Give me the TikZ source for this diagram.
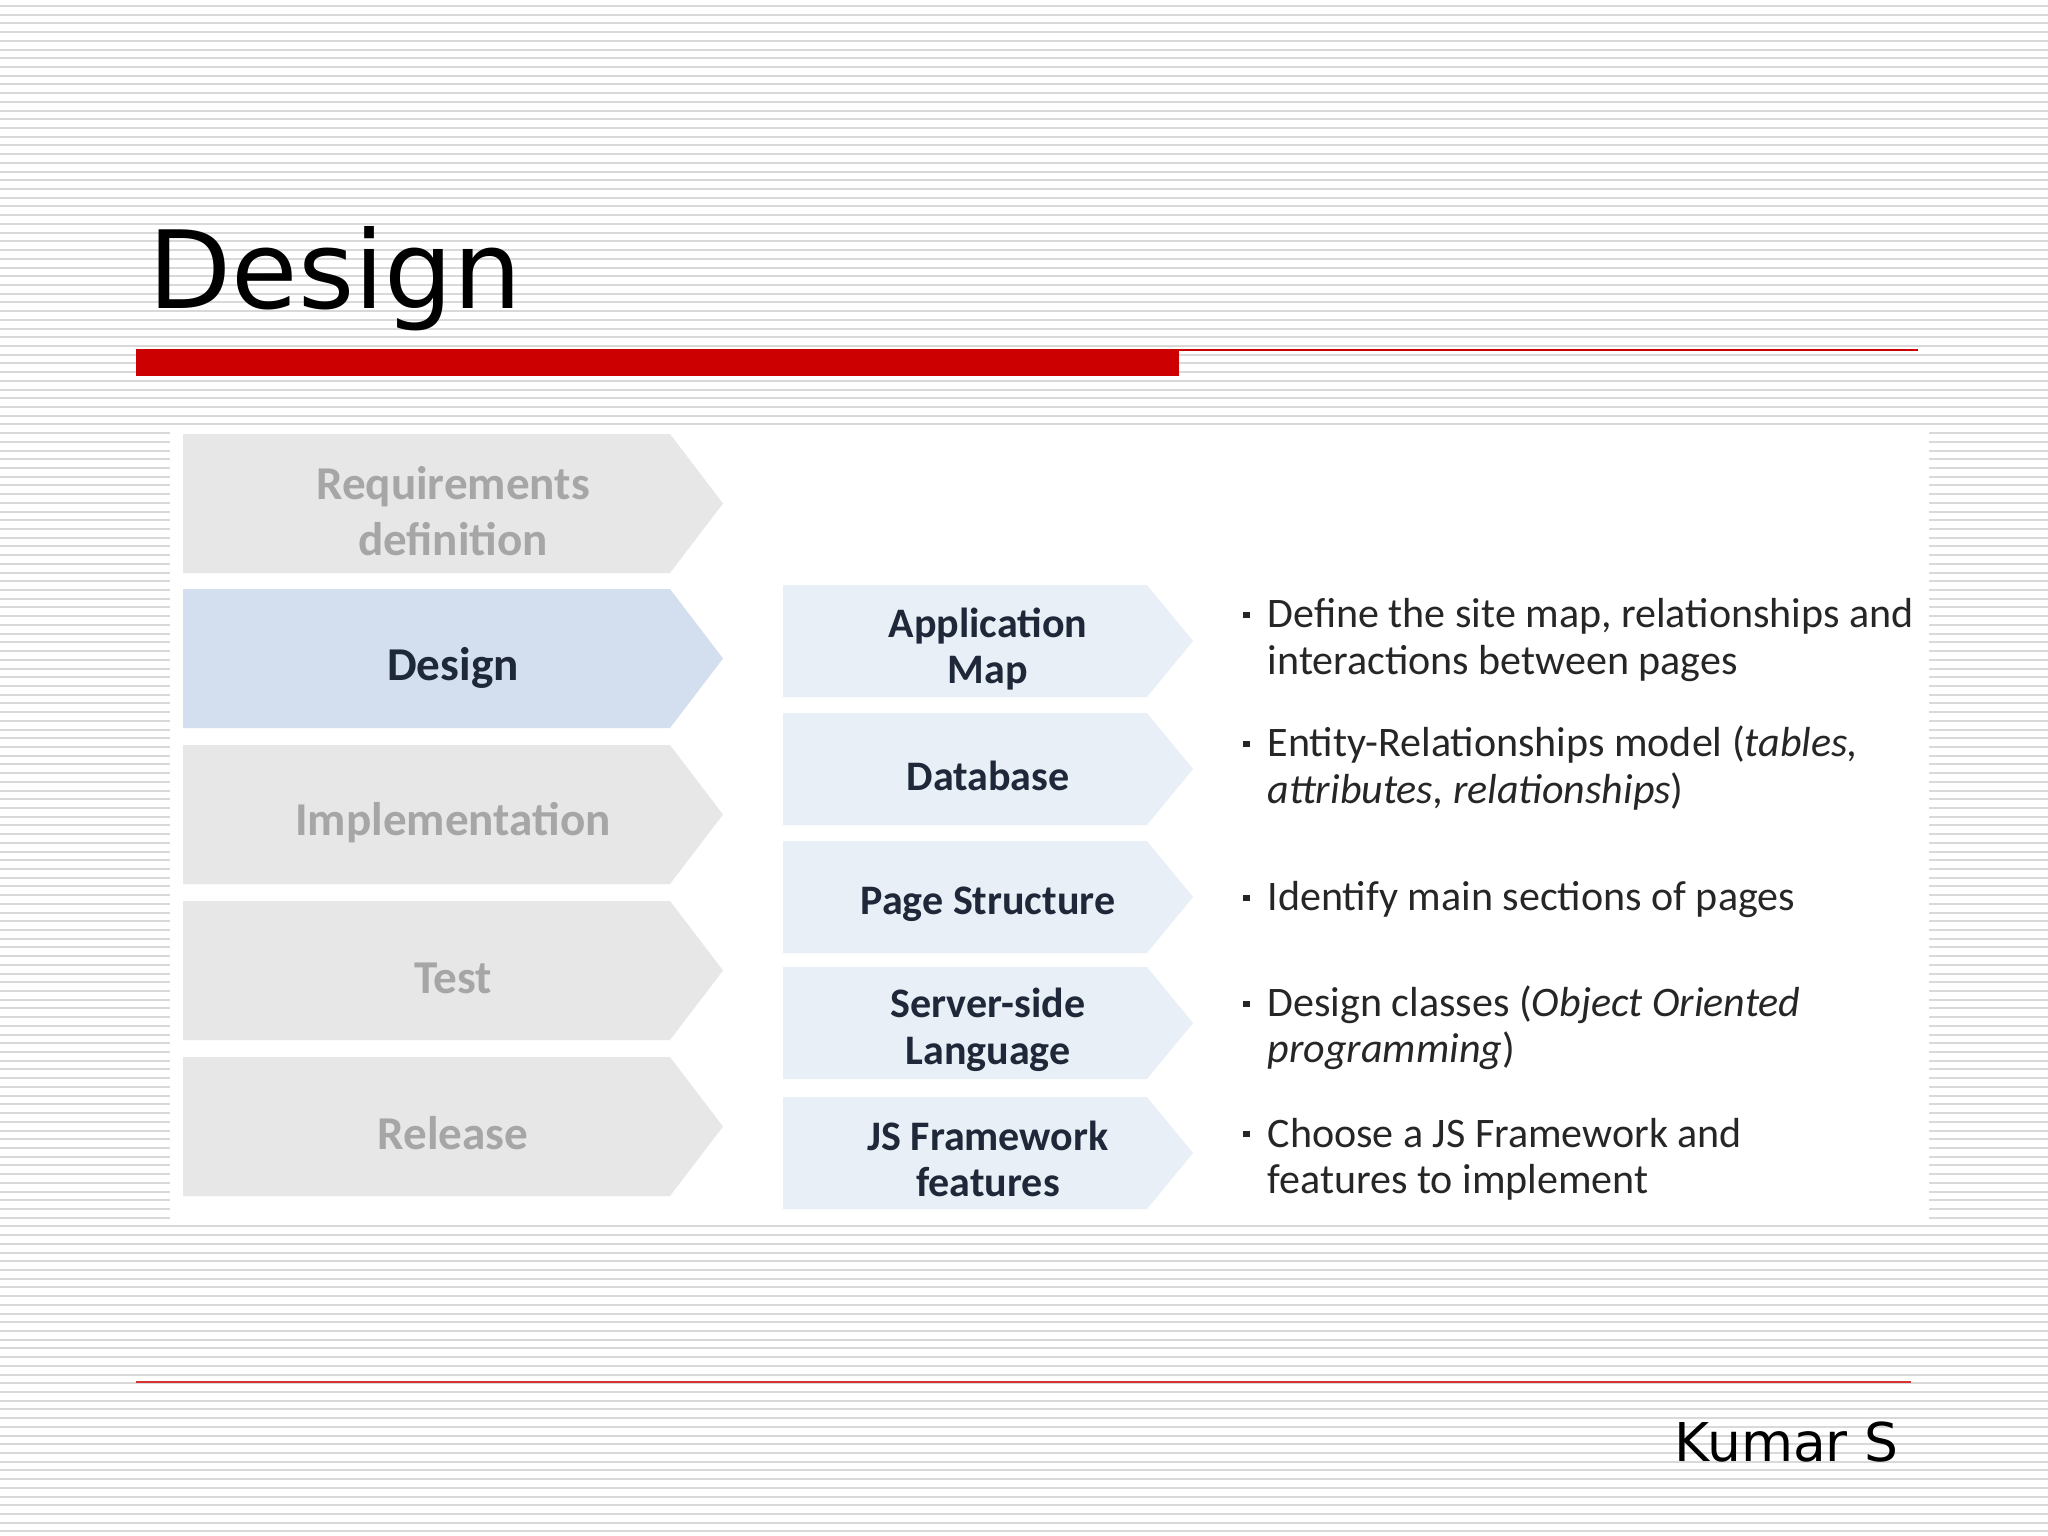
\documentclass[tikz,border=0pt]{standalone}
\usepackage{fontspec}
\usepackage{xcolor}
\setmainfont{Carlito}
\newfontfamily\slidefont{DejaVu Sans}
\newcommand{\unitsize}{0.01cm}
\newcommand{\bulletmark}{\llap{\raisebox{0.23em}{\rule{0.15em}{0.15em}}\hspace{0.43em}}}
\definecolor{barred}{RGB}{204,0,0}
\definecolor{stagegrey}{RGB}{231,231,231}
\definecolor{stagetext}{RGB}{166,166,166}
\definecolor{activeblue}{RGB}{211,223,238}
\definecolor{stepblue}{RGB}{233,239,247}
\definecolor{inktext}{RGB}{30,40,56}
\definecolor{bodytext}{RGB}{38,38,38}

\begin{document}
\begin{tikzpicture}
\useasboundingbox (0,0) rectangle (2048*\unitsize,-1536*\unitsize);
\tikzstyle{stripe}=[gray!30, line width=2*\unitsize]
\tikzstyle{stage}=[font=\fontsize{13.4}{16}\selectfont\bfseries, text=stagetext, align=center, inner sep=0pt]
\tikzstyle{substep}=[font=\fontsize{11.95}{13.2}\selectfont\bfseries, text=inktext, align=center, inner sep=0pt]
\tikzstyle{bullettext}=[font=\fontsize{11.95}{13.2}\selectfont, text=bodytext, align=left, anchor=west, inner sep=0pt]

\foreach \k in {0,...,175}
    \draw[stripe] (0,{-(6+8.717*\k)*\unitsize}) -- (2048*\unitsize,{-(6+8.717*\k)*\unitsize});

\node[anchor=base west, inner sep=0pt, font=\slidefont\fontsize{30.7}{36}\selectfont] (title) at (148*\unitsize,-308*\unitsize) {Design};

\fill[barred] (136*\unitsize,-349*\unitsize) rectangle (1179*\unitsize,-376*\unitsize);
\draw[barred, line width=2*\unitsize] (1179*\unitsize,-350*\unitsize) -- (1918*\unitsize,-350*\unitsize);

\fill[white] (170*\unitsize,-427*\unitsize) rectangle (1929*\unitsize,-1222*\unitsize);


\fill[stagegrey] (183*\unitsize,-434*\unitsize) -- (670*\unitsize,-434*\unitsize) -- (723*\unitsize,-503.5*\unitsize) -- (670*\unitsize,-573*\unitsize) -- (183*\unitsize,-573*\unitsize) -- cycle;

\fill[activeblue] (183*\unitsize,-589*\unitsize) -- (670*\unitsize,-589*\unitsize) -- (723*\unitsize,-658.5*\unitsize) -- (670*\unitsize,-728*\unitsize) -- (183*\unitsize,-728*\unitsize) -- cycle;

\fill[stagegrey] (183*\unitsize,-745*\unitsize) -- (670*\unitsize,-745*\unitsize) -- (723*\unitsize,-814.5*\unitsize) -- (670*\unitsize,-884*\unitsize) -- (183*\unitsize,-884*\unitsize) -- cycle;

\fill[stagegrey] (183*\unitsize,-901*\unitsize) -- (670*\unitsize,-901*\unitsize) -- (723*\unitsize,-970.5*\unitsize) -- (670*\unitsize,-1040*\unitsize) -- (183*\unitsize,-1040*\unitsize) -- cycle;

\fill[stagegrey] (183*\unitsize,-1057*\unitsize) -- (670*\unitsize,-1057*\unitsize) -- (723*\unitsize,-1126.5*\unitsize) -- (670*\unitsize,-1196*\unitsize) -- (183*\unitsize,-1196*\unitsize) -- cycle;


\node[stage] (req) at (453*\unitsize,-511*\unitsize) {Requirements\\definition};

\node[stage, text=inktext] (design) at (453*\unitsize,-668*\unitsize) {Design};

\node[stage] (impl) at (453*\unitsize,-823*\unitsize) {Implementation};

\node[stage] (test) at (453*\unitsize,-978*\unitsize) {Test};

\node[stage] (release) at (453*\unitsize,-1133*\unitsize) {Release};


\fill[stepblue] (783*\unitsize,-585*\unitsize) -- (1147*\unitsize,-585*\unitsize) -- (1193*\unitsize,-641*\unitsize) -- (1147*\unitsize,-697*\unitsize) -- (783*\unitsize,-697*\unitsize) -- cycle;

\fill[stepblue] (783*\unitsize,-713*\unitsize) -- (1147*\unitsize,-713*\unitsize) -- (1193*\unitsize,-769*\unitsize) -- (1147*\unitsize,-825*\unitsize) -- (783*\unitsize,-825*\unitsize) -- cycle;

\fill[stepblue] (783*\unitsize,-841*\unitsize) -- (1147*\unitsize,-841*\unitsize) -- (1193*\unitsize,-897*\unitsize) -- (1147*\unitsize,-953*\unitsize) -- (783*\unitsize,-953*\unitsize) -- cycle;

\fill[stepblue] (783*\unitsize,-967*\unitsize) -- (1147*\unitsize,-967*\unitsize) -- (1193*\unitsize,-1023*\unitsize) -- (1147*\unitsize,-1079*\unitsize) -- (783*\unitsize,-1079*\unitsize) -- cycle;

\fill[stepblue] (783*\unitsize,-1097*\unitsize) -- (1147*\unitsize,-1097*\unitsize) -- (1193*\unitsize,-1153*\unitsize) -- (1147*\unitsize,-1209*\unitsize) -- (783*\unitsize,-1209*\unitsize) -- cycle;


\node[substep] (appmap) at (988*\unitsize,-649*\unitsize) {Application\\Map};

\node[substep] (database) at (988*\unitsize,-776*\unitsize) {Database};

\node[substep] (pagestruct) at (988*\unitsize,-904*\unitsize) {Page Structure};

\node[substep] (serverlang) at (988*\unitsize,-1030*\unitsize) {Server-side\\Language};

\node[substep] (jsframe) at (988*\unitsize,-1159*\unitsize) {JS Framework\\features};


\node[bullettext] (appmapnote) at (1267*\unitsize,-640*\unitsize) {\bulletmark Define the site map, relationships and\\interactions between pages};

\node[bullettext] (databasenote) at (1267*\unitsize,-768*\unitsize) {\bulletmark Entity-Relationships model (\textit{tables,}\\\textit{attributes, relationships})};

\node[bullettext] (pagestructnote) at (1267*\unitsize,-900*\unitsize) {\bulletmark Identify main sections of pages};

\node[bullettext] (serverlangnote) at (1267*\unitsize,-1028*\unitsize) {\bulletmark Design classes (\textit{Object Oriented}\\\textit{programming})};

\node[bullettext] (jsframenote) at (1267*\unitsize,-1159*\unitsize) {\bulletmark Choose a JS Framework and\\features to implement};


\draw[barred!80, line width=1.5*\unitsize] (136*\unitsize,-1382*\unitsize) -- (1911*\unitsize,-1382*\unitsize);

\node[anchor=base west, inner sep=0pt, font=\slidefont\fontsize{15.2}{18}\selectfont] (author) at (1674*\unitsize,-1461*\unitsize) {Kumar S};

\end{tikzpicture}
\end{document}
